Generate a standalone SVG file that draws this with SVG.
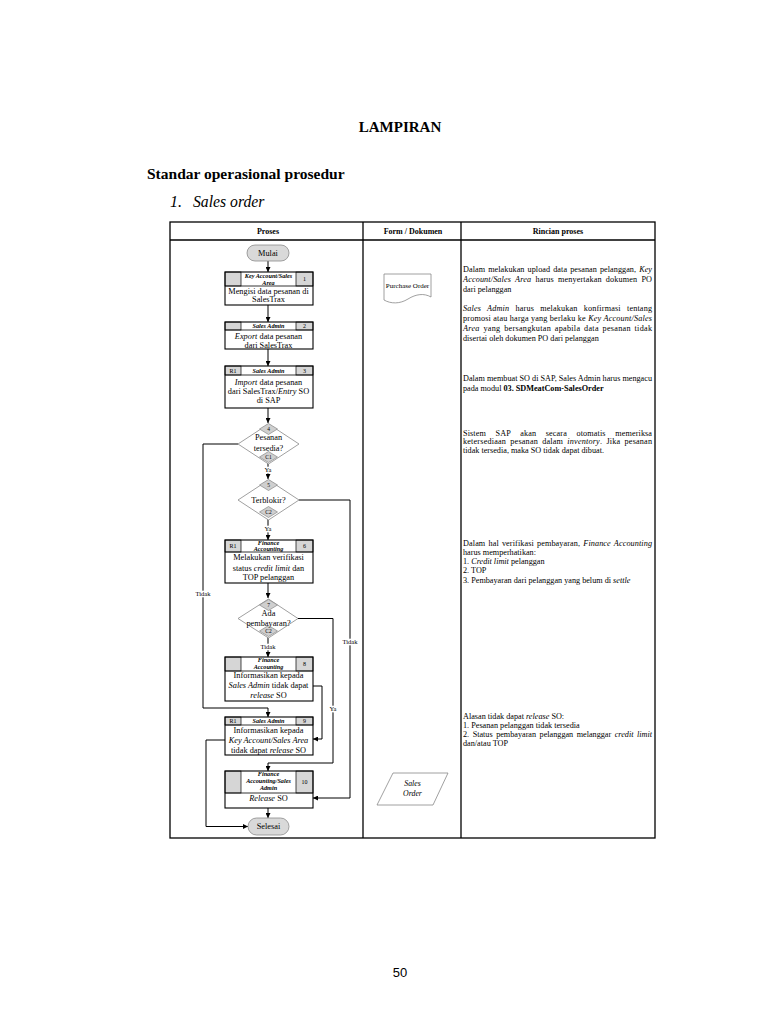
<svg xmlns="http://www.w3.org/2000/svg" width="768" height="1024" viewBox="0 0 768 1024">
<defs>
<marker id="ah" viewBox="0 0 6 6" refX="6" refY="3" markerWidth="5" markerHeight="5" markerUnits="userSpaceOnUse" orient="auto"><path d="M0,0 L6,3 L0,6 Z" fill="#000"/></marker>
</defs>
<style>
.t{font-family:"Liberation Serif","Times New Roman",serif;fill:#000}
.bx{fill:#fff;stroke:none}
.bo{fill:none;stroke:#000;stroke-width:1.1}
.cell{fill:#d6d6d6;stroke:#000;stroke-width:0.7}
.hl{stroke:#000;stroke-width:0.8}
.hd{font-size:6.2px;font-weight:bold;font-style:italic;text-anchor:middle}
.num{font-size:6px;text-anchor:middle}
.body{font-size:8.3px;text-anchor:middle}
.dm{fill:#fff;stroke:#888;stroke-width:0.8}
.sd{fill:#cfcfcf;stroke:#888;stroke-width:0.7}
.sn{font-size:5.5px;text-anchor:middle}
.term{fill:#d9d9d9;stroke:#8c8c8c;stroke-width:0.8}
.cn{fill:none;stroke:#000;stroke-width:1}
.lbl{font-size:6.5px;text-anchor:middle;stroke:#fff;stroke-width:2.5;paint-order:stroke}
.rc{font-size:8.2px}
.i{font-style:italic}
.b{font-weight:bold}
.doc{fill:#fff;stroke:#888;stroke-width:0.8}
.tb{fill:none;stroke:#000;stroke-width:1.3}
</style>
<rect width="768" height="1024" fill="#fff"/>

<text class="t" x="400" y="132" font-size="15" font-weight="bold" text-anchor="middle">LAMPIRAN</text>
<text class="t" x="147" y="179" font-size="15.5" font-weight="bold">Standar operasional prosedur</text>
<text class="t" x="170" y="207" font-size="16" font-style="italic">1.</text>
<text class="t" x="193" y="207" font-size="15.7" font-style="italic">Sales order</text>

<g id="table">
<rect class="tb" x="170" y="222" width="485" height="616"/>
<line class="tb" x1="170" y1="240" x2="655" y2="240"/>
<line class="tb" x1="363" y1="222" x2="363" y2="838"/>
<line class="tb" x1="461" y1="222" x2="461" y2="838"/>
<text class="t b" x="268" y="234" font-size="8" text-anchor="middle">Proses</text>
<text class="t b" x="413" y="234" font-size="8" text-anchor="middle">Form / Dokumen</text>
<text class="t b" x="558" y="234" font-size="8" text-anchor="middle">Rincian proses</text>
</g>

<g id="connectors">
<path class="cn" d="M268,261 V272" marker-end="url(#ah)"/>
<path class="cn" d="M268,305 V322" marker-end="url(#ah)"/>
<path class="cn" d="M268,349 V366" marker-end="url(#ah)"/>
<path class="cn" d="M268,408 V423" marker-end="url(#ah)"/>
<path class="cn" d="M268,462.5 V479" marker-end="url(#ah)"/>
<path class="cn" d="M268,517.5 V540" marker-end="url(#ah)"/>
<path class="cn" d="M268,583 V598" marker-end="url(#ah)"/>
<path class="cn" d="M268,636.5 V657" marker-end="url(#ah)"/>
<path class="cn" d="M238,444 H203 V708 H268 V717" marker-end="url(#ah)"/>
<path class="cn" d="M299,500 H350 V798 H313" marker-end="url(#ah)"/>
<path class="cn" d="M298,618.5 H333 V763 H268 V771" marker-end="url(#ah)"/>
<path class="cn" d="M313,686 H322 V739 H313" marker-end="url(#ah)"/>
<path class="cn" d="M225,740 H206 V826.5 H248" marker-end="url(#ah)"/>
<path class="cn" d="M268,808 V818" marker-end="url(#ah)"/>
<text class="t lbl" x="268" y="471.5">Ya</text>
<text class="t lbl" x="268" y="530.5">Ya</text>
<text class="t lbl" x="268" y="649">Tidak</text>
<text class="t lbl" x="203" y="596">Tidak</text>
<text class="t lbl" x="350" y="644">Tidak</text>
<text class="t lbl" x="333" y="711">Ya</text>
</g>

<g id="mulai">
<rect class="term" x="247" y="245" width="42" height="16" rx="8"/>
<text class="t body" x="268" y="255.8">Mulai</text>
</g>

<g id="box1">
<rect class="bx" x="225" y="272" width="88" height="33"/>
<rect class="cell" x="225" y="272" width="16" height="14"/>
<rect class="cell" x="296" y="272" width="17" height="14"/>
<line class="hl" x1="225" y1="286" x2="313" y2="286"/>
<text class="t hd" x="268.5" y="278">Key Account/Sales</text>
<text class="t hd" x="268.5" y="284.5">Area</text>
<text class="t num" x="304.5" y="281">1</text>
<text class="t body" x="268.5" y="293.5">Mengisi data pesanan di</text>
<text class="t body" x="268.5" y="302">SalesTrax</text>
<rect class="bo" x="225" y="272" width="88" height="33"/>
</g>

<g id="box2">
<rect class="bx" x="225" y="322" width="88" height="27"/>
<rect class="cell" x="225" y="322" width="16" height="8"/>
<rect class="cell" x="296" y="322" width="17" height="8"/>
<line class="hl" x1="225" y1="330" x2="313" y2="330"/>
<text class="t hd" x="268.5" y="328.2">Sales Admin</text>
<text class="t num" x="304.5" y="328.2">2</text>
<text class="t body" x="268.5" y="339"><tspan class="i">Export</tspan> data pesanan</text>
<text class="t body" x="268.5" y="347.5">dari SalesTrax</text>
<rect class="bo" x="225" y="322" width="88" height="27"/>
</g>

<g id="box3">
<rect class="bx" x="225" y="366" width="88" height="42"/>
<rect class="cell" x="225" y="366" width="16" height="9"/>
<rect class="cell" x="296" y="366" width="17" height="9"/>
<line class="hl" x1="225" y1="375" x2="313" y2="375"/>
<text class="t num" x="233" y="372.5">R1</text>
<text class="t hd" x="268.5" y="372.5">Sales Admin</text>
<text class="t num" x="304.5" y="372.5">3</text>
<text class="t body" x="268.5" y="384.5"><tspan class="i">Import</tspan> data pesanan</text>
<text class="t body" x="268.5" y="393.5">dari SalesTrax/<tspan class="i">Entry</tspan> SO</text>
<text class="t body" x="268.5" y="402.5">di SAP</text>
<rect class="bo" x="225" y="366" width="88" height="42"/>
</g>

<g id="d4">
<polygon class="dm" points="268.5,424 299,444 268.5,464 238,444"/>
<polygon class="sd" points="268.5,423.5 277.5,429 268.5,434.5 259.5,429"/>
<polygon class="sd" points="268.5,451.5 277.5,457 268.5,462.5 259.5,457"/>
<text class="t sn" x="268.5" y="431">4</text>
<text class="t sn" x="268.5" y="459">C1</text>
<text class="t body" x="268.5" y="440">Pesanan</text>
<text class="t body" x="268.5" y="451">tersedia?</text>
</g>

<g id="d5">
<polygon class="dm" points="268.5,480 299,500 268.5,520 238,500"/>
<polygon class="sd" points="268.5,479.5 277.5,485 268.5,490.5 259.5,485"/>
<polygon class="sd" points="268.5,506.5 277.5,512 268.5,517.5 259.5,512"/>
<text class="t sn" x="268.5" y="487">5</text>
<text class="t sn" x="268.5" y="514">C2</text>
<text class="t body" x="268.5" y="502.8">Terblokir?</text>
</g>

<g id="box6">
<rect class="bx" x="225" y="540" width="88" height="43"/>
<rect class="cell" x="225" y="540" width="16" height="12"/>
<rect class="cell" x="296" y="540" width="17" height="12"/>
<line class="hl" x1="225" y1="552" x2="313" y2="552"/>
<text class="t num" x="233" y="548">R1</text>
<text class="t hd" x="268.5" y="545.2">Finance</text>
<text class="t hd" x="268.5" y="551">Accounting</text>
<text class="t num" x="304.5" y="548">6</text>
<text class="t body" x="268.5" y="560">Melakukan verifikasi</text>
<text class="t body" x="268.5" y="570.5">status <tspan class="i">credit limit</tspan> dan</text>
<text class="t body" x="268.5" y="580">TOP pelanggan</text>
<rect class="bo" x="225" y="540" width="88" height="43"/>
</g>

<g id="d7">
<polygon class="dm" points="268.5,599 298,618.5 268.5,638 238,618.5"/>
<polygon class="sd" points="268.5,599.5 277.5,605 268.5,610.5 259.5,605"/>
<polygon class="sd" points="268.5,625.5 277.5,631 268.5,636.5 259.5,631"/>
<text class="t sn" x="268.5" y="607">7</text>
<text class="t sn" x="268.5" y="633">C2</text>
<text class="t body" x="268.5" y="616">Ada</text>
<text class="t body" x="268.5" y="625.5">pembayaran?</text>
</g>

<g id="box8">
<rect class="bx" x="225" y="657" width="88" height="44"/>
<rect class="cell" x="225" y="657" width="16" height="14"/>
<rect class="cell" x="296" y="657" width="17" height="14"/>
<line class="hl" x1="225" y1="671" x2="313" y2="671"/>
<text class="t hd" x="268.5" y="661.5">Finance</text>
<text class="t hd" x="268.5" y="668.5">Accounting</text>
<text class="t num" x="304.5" y="665.5">8</text>
<text class="t body" x="268.5" y="678">Informasikan kepada</text>
<text class="t body" x="268.5" y="688"><tspan class="i">Sales Admin</tspan> tidak dapat</text>
<text class="t body" x="268.5" y="697.5"><tspan class="i">release</tspan> SO</text>
<rect class="bo" x="225" y="657" width="88" height="44"/>
</g>

<g id="box9">
<rect class="bx" x="225" y="717" width="88" height="38"/>
<rect class="cell" x="225" y="717" width="16" height="8"/>
<rect class="cell" x="296" y="717" width="17" height="8"/>
<line class="hl" x1="225" y1="725" x2="313" y2="725"/>
<text class="t num" x="233" y="723">R1</text>
<text class="t hd" x="268.5" y="723">Sales Admin</text>
<text class="t num" x="304.5" y="723">9</text>
<text class="t body" x="268.5" y="733">Informasikan kepada</text>
<text class="t body" x="268.5" y="743"><tspan class="i">Key Account/Sales Area</tspan></text>
<text class="t body" x="268.5" y="752.5">tidak dapat <tspan class="i">release</tspan> SO</text>
<rect class="bo" x="225" y="717" width="88" height="38"/>
</g>

<g id="box10">
<rect class="bx" x="225" y="771" width="88" height="37"/>
<rect class="cell" x="225" y="771" width="16" height="22"/>
<rect class="cell" x="296" y="771" width="17" height="22"/>
<line class="hl" x1="225" y1="793" x2="313" y2="793"/>
<text class="t hd" x="268.5" y="775.5">Finance</text>
<text class="t hd" x="268.5" y="782.5">Accounting/Sales</text>
<text class="t hd" x="268.5" y="789.5">Admin</text>
<text class="t num" x="304.5" y="784">10</text>
<text class="t body" x="268.5" y="801"><tspan class="i">Release</tspan> SO</text>
<rect class="bo" x="225" y="771" width="88" height="37"/>
</g>

<g id="selesai">
<rect class="term" x="248" y="818" width="41" height="17" rx="8.5"/>
<text class="t body" x="268.5" y="829.3">Selesai</text>
</g>

<g id="po">
<path class="doc" d="M384,274 L431,274 L431,297 C424,293 416,294 408,299 C400,304 391,304 384,300 Z"/>
<text class="t" x="407.5" y="287.5" font-size="7" text-anchor="middle">Purchase Order</text>
</g>

<g id="so">
<polygon class="doc" points="393,773 448,773 433,805 377,805"/>
<text class="t i" x="412.5" y="785.5" font-size="7.8" text-anchor="middle">Sales</text>
<text class="t i" x="412.5" y="795.5" font-size="7.8" text-anchor="middle">Order</text>
</g>

<g id="rincian">
<text class="t rc" x="463" y="271.5" textLength="189" lengthAdjust="spacing" word-spacing="1">Dalam melakukan upload data pesanan pelanggan, <tspan class="i">Key</tspan></text>
<text class="t rc" x="463" y="281.5" textLength="189" lengthAdjust="spacing" word-spacing="2"><tspan class="i">Account/Sales Area</tspan> harus menyertakan dokumen PO</text>
<text class="t rc" x="463" y="291.5">dari pelanggan</text>
<text class="t rc" x="463" y="310.5" textLength="189" lengthAdjust="spacing" word-spacing="4"><tspan class="i">Sales Admin</tspan> harus melakukan konfirmasi tentang</text>
<text class="t rc" x="463" y="320.5" textLength="189" lengthAdjust="spacing">promosi atau harga yang berlaku ke <tspan class="i">Key Account/Sales</tspan></text>
<text class="t rc" x="463" y="330.5" textLength="189" lengthAdjust="spacing" word-spacing="1.5"><tspan class="i">Area</tspan> yang bersangkutan apabila data pesanan tidak</text>
<text class="t rc" x="463" y="340.5">disertai oleh dokumen PO dari pelanggan</text>
<text class="t rc" x="463" y="380.5" textLength="189" lengthAdjust="spacing">Dalam membuat SO di SAP, Sales Admin harus mengacu</text>
<text class="t rc" x="463" y="390.5">pada modul <tspan class="b">03. SDMeatCom-SalesOrder</tspan></text>
<text class="t rc" x="463" y="435.5" textLength="189" lengthAdjust="spacing" word-spacing="7.5">Sistem SAP akan secara otomatis memeriksa</text>
<text class="t rc" x="463" y="444" textLength="189" lengthAdjust="spacing" word-spacing="2">ketersediaan pesanan dalam <tspan class="i">inventory</tspan>. Jika pesanan</text>
<text class="t rc" x="463" y="452.5">tidak tersedia, maka SO tidak dapat dibuat.</text>
<text class="t rc" x="463" y="545.5" textLength="189" lengthAdjust="spacing" word-spacing="1">Dalam hal verifikasi pembayaran, <tspan class="i">Finance Accounting</tspan></text>
<text class="t rc" x="463" y="554.5">harus memperhatikan:</text>
<text class="t rc" x="463" y="563.5">1. <tspan class="i">Credit limit</tspan> pelanggan</text>
<text class="t rc" x="463" y="573">2. TOP</text>
<text class="t rc" x="463" y="582.5">3. Pembayaran dari pelanggan yang belum di <tspan class="i">settle</tspan></text>
<text class="t rc" x="463" y="718.5">Alasan tidak dapat <tspan class="i">release</tspan> SO:</text>
<text class="t rc" x="463" y="727.5">1. Pesanan pelanggan tidak tersedia</text>
<text class="t rc" x="463" y="736.5" textLength="189" lengthAdjust="spacing" word-spacing="1.5">2. Status pembayaran pelanggan melanggar <tspan class="i">credit limit</tspan></text>
<text class="t rc" x="463" y="745.5">dan/atau TOP</text>
</g>

<text x="400" y="977" font-family="Liberation Sans, Arial, sans-serif" font-size="13" text-anchor="middle">50</text>
</svg>
